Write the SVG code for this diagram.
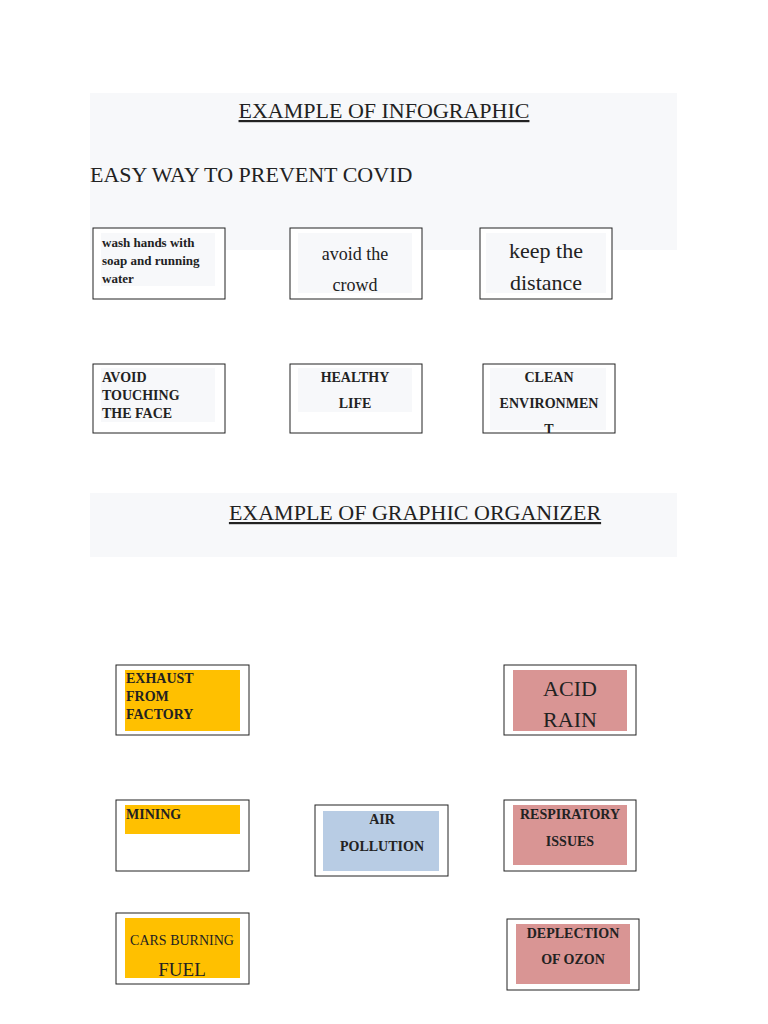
<svg xmlns="http://www.w3.org/2000/svg" width="768" height="1024" viewBox="0 0 768 1024">
<style>
text{font-family:"Liberation Serif","DejaVu Serif",serif;fill:#222}
.b{font-weight:bold}
.box{fill:#fff;stroke:#222;stroke-width:1}
.ti{font-size:22px;text-decoration:underline}
</style>
<rect width="768" height="1024" fill="#fff"/>
<rect x="90" y="93" width="587" height="157" fill="#f7f8fa"/>
<rect x="90" y="493" width="587" height="64" fill="#f7f8fa"/>
<text class="ti" x="384" y="118" text-anchor="middle">EXAMPLE OF INFOGRAPHIC</text>
<text x="90" y="182" font-size="22">EASY WAY TO PREVENT COVID</text>
<text class="ti" x="415" y="520" text-anchor="middle">EXAMPLE OF GRAPHIC ORGANIZER </text>
<g id="n1"><rect class="box" x="93" y="228" width="132" height="71"/><rect x="101" y="233" width="114" height="53" fill="#f7f8fa"/>
<text class="b" x="102" y="247" font-size="13">wash hands with</text><text class="b" x="102" y="265" font-size="13">soap and running</text><text class="b" x="102" y="283" font-size="13">water</text></g>
<g id="n2"><rect class="box" x="290" y="228" width="132" height="71"/><rect x="298" y="233" width="114" height="60" fill="#f7f8fa"/>
<text x="355" y="260" font-size="18" text-anchor="middle">avoid the</text><text x="355" y="291" font-size="18" text-anchor="middle">crowd</text></g>
<g id="n3"><rect class="box" x="480" y="228" width="132" height="71"/><rect x="486" y="233" width="120" height="60" fill="#f7f8fa"/>
<text x="546" y="258" font-size="22" text-anchor="middle">keep the</text><text x="546" y="290" font-size="22" text-anchor="middle">distance</text></g>
<g id="n4"><rect class="box" x="93" y="364" width="132" height="69"/><rect x="101" y="368" width="114" height="54" fill="#f7f8fa"/>
<text class="b" x="102" y="382" font-size="14">AVOID</text><text class="b" x="102" y="400" font-size="14">TOUCHING</text><text class="b" x="102" y="418" font-size="14">THE FACE</text></g>
<g id="n5"><rect class="box" x="290" y="364" width="132" height="69"/><rect x="298" y="368" width="114" height="44" fill="#f7f8fa"/>
<text class="b" x="355" y="382" font-size="14" text-anchor="middle">HEALTHY</text><text class="b" x="355" y="408" font-size="14" text-anchor="middle">LIFE</text></g>
<g id="n6"><rect class="box" x="483" y="364" width="132" height="69"/><rect x="490" y="368" width="116" height="62" fill="#f7f8fa"/>
<text class="b" x="549" y="382" font-size="14" text-anchor="middle">CLEAN</text><text class="b" x="549" y="408" font-size="14" text-anchor="middle">ENVIRONMEN</text>
<svg x="490" y="420" width="116" height="13"><text class="b" x="59" y="14" font-size="14" text-anchor="middle">T</text></svg></g>
<g id="n7"><rect class="box" x="116" y="665" width="133" height="70"/><rect x="125" y="670" width="115" height="61" fill="#ffc000"/>
<text class="b" x="126" y="683" font-size="14">EXHAUST</text><text class="b" x="126" y="701" font-size="14">FROM</text><text class="b" x="126" y="719" font-size="14">FACTORY</text></g>
<g id="n8"><rect class="box" x="116" y="800" width="133" height="71"/><rect x="125" y="805" width="115" height="29" fill="#ffc000"/>
<text class="b" x="126" y="819" font-size="14">MINING</text></g>
<g id="n9"><rect class="box" x="116" y="913" width="133" height="71"/><rect x="125" y="918" width="115" height="60" fill="#ffc000"/>
<text x="182" y="945" font-size="14" text-anchor="middle">CARS BURNING</text><text x="182" y="976" font-size="19" text-anchor="middle">FUEL</text></g>
<g id="n10"><rect class="box" x="315" y="805" width="133" height="71"/><rect x="323" y="811" width="116" height="60" fill="#b8cce4"/>
<text class="b" x="382" y="824" font-size="14" text-anchor="middle">AIR</text><text class="b" x="382" y="851" font-size="14" text-anchor="middle">POLLUTION</text></g>
<g id="n11"><rect class="box" x="504" y="665" width="132" height="70"/><rect x="513" y="670" width="114" height="61" fill="#d99594"/>
<text x="570" y="696" font-size="22" text-anchor="middle">ACID</text><text x="570" y="727" font-size="22" text-anchor="middle">RAIN</text></g>
<g id="n12"><rect class="box" x="504" y="800" width="132" height="71"/><rect x="513" y="805" width="114" height="60" fill="#d99594"/>
<text class="b" x="570" y="819" font-size="14" text-anchor="middle">RESPIRATORY</text><text class="b" x="570" y="846" font-size="14" text-anchor="middle">ISSUES</text></g>
<g id="n13"><rect class="box" x="507" y="919" width="132" height="71"/><rect x="516" y="924" width="114" height="60" fill="#d99594"/>
<text class="b" x="573" y="938" font-size="14" text-anchor="middle">DEPLECTION</text><text class="b" x="573" y="964" font-size="14" text-anchor="middle">OF OZON</text></g>
<g id="connectors"/>
</svg>
